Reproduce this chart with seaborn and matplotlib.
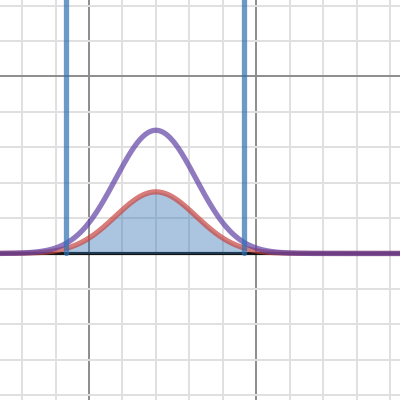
import numpy as np
import matplotlib
matplotlib.use('Agg')
import matplotlib.pyplot as plt
import pandas as pd
import seaborn as sns

# graph window (grid units: 1 per minor cell, major every 5)
x_range = [-2.66, 9.30]
y_range = [-4.14, 7.16]

# curve parameters
mean = 2.0
sd = 1.2
peak_purple = 3.48
peak_red = 1.74
bounds = [-0.68, 4.64]   # blue vertical lines / shaded interval

xs = np.linspace(x_range[0], x_range[1], 800)
z = np.exp(-0.5 * ((xs - mean) / sd) ** 2)
df = pd.DataFrame({'x': xs, 'purple': peak_purple * z, 'red': peak_red * z})

sns.set_style('white')
fig = plt.figure(figsize=(4, 4), dpi=100)
ax = fig.add_axes([0, 0, 1, 1])

ax.set_xlim(x_range)
ax.set_ylim(y_range)
ax.set_xticks(np.arange(-0, 10, 5))
ax.set_xticks(np.arange(-2, 10, 1), minor=True)
ax.set_yticks(np.arange(-0, 8, 5))
ax.set_yticks(np.arange(-4, 8, 1), minor=True)
ax.grid(which='minor', color='#e0e0e0', lw=1.4, zorder=0)
ax.grid(which='major', color='#8c8c8c', lw=1.4, zorder=0)
ax.set_axisbelow(True)
ax.tick_params(which='both', length=0, labelbottom=False, labelleft=False)
for s in ax.spines.values():
    s.set_visible(False)

# x-axis baseline
ax.axhline(0, color='#151515', lw=2.3, zorder=1)

# shaded area under the red curve between the bounds
inside = (xs >= bounds[0]) & (xs <= bounds[1])
ax.fill_between(xs[inside], 0, df['red'][inside], color='#2d70b3', alpha=0.4, lw=0, zorder=2)

sns.lineplot(data=df, x='x', y='red', color='#c74440', alpha=0.7, lw=3.8, ax=ax, zorder=3)
sns.lineplot(data=df, x='x', y='purple', color='#6042a6', alpha=0.7, lw=3.8, ax=ax, zorder=4)

for b in bounds:
    ax.plot([b, b], [0, y_range[1]], color='#2d70b3', alpha=0.7, lw=3.8, zorder=5)

ax.set_xlabel('')
ax.set_ylabel('')
fig.savefig('out.png', dpi=100)
